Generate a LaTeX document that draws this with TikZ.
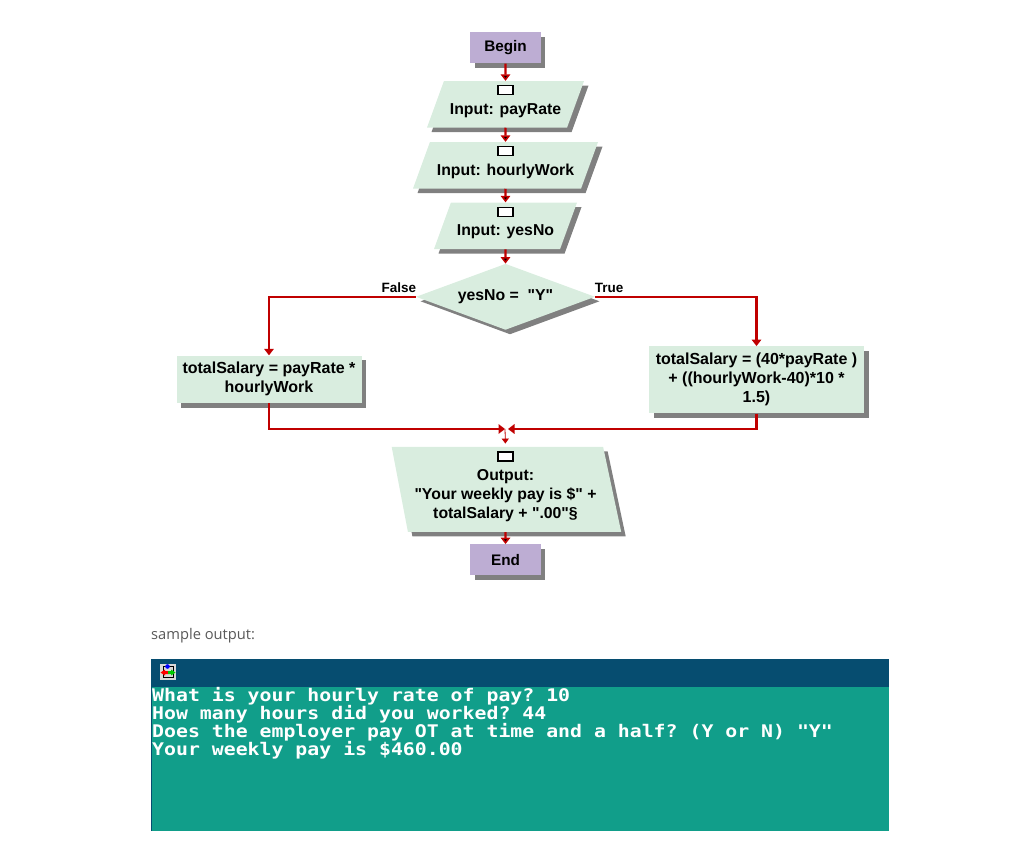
\documentclass[tikz,border=0pt]{standalone}
\usepackage{fontspec}
\newfontfamily\flowfont{Liberation Sans}
\newfontfamily\termfont[FakeStretch=1.14]{DejaVu Sans Mono}
\newfontfamily\notefont{Open Sans}
\usepackage{xcolor}
\usetikzlibrary{arrows.meta,positioning,shadows,shapes.geometric}
\definecolor{flowred}{HTML}{C00000}
\definecolor{flowgreen}{HTML}{D9EDDF}
\definecolor{flowpurple}{HTML}{BDADD3}
\definecolor{flowshadow}{HTML}{808080}
\definecolor{termblue}{HTML}{064D70}
\definecolor{termgreen}{HTML}{119E8A}
\tikzset{
  boxed/.style={fill=#1,inner sep=0pt,font=\flowfont\fontsize{15.8}{19}\selectfont\bfseries,
    drop shadow={shadow xshift=4.5pt,shadow yshift=-4.5pt,fill=flowshadow,opacity=1}},
  terminalbox/.style={boxed=flowpurple,minimum width=70.5pt,minimum height=31pt,
    font=\flowfont\fontsize{15.3}{19}\selectfont\bfseries},
  assignbox/.style={boxed=flowgreen,align=center,font=\flowfont\fontsize{16}{19}\selectfont\bfseries},
  inputbox/.style={boxed=flowgreen,trapezium,trapezium left angle=70,trapezium right angle=110,
    trapezium stretches body,text height=33pt,text depth=13.5pt},
  slotbox/.style={draw=black,fill=white,line width=1.4pt,inner sep=0pt,minimum width=15pt,minimum height=9pt},
  flow/.style={->,draw=flowred,line width=2.2pt},
  flowlabel/.style={font=\flowfont\fontsize{13.5}{15}\selectfont\bfseries,inner sep=0pt,yshift=3pt}
}
\begin{document}
\begin{tikzpicture}[x=1pt,y=1pt,on grid,>={Triangle[width=9.5pt,length=6.5pt]}]
   \useasboundingbox (0,0) rectangle (1024,-866);
   % flowchart
   \node[terminalbox] (begin) at (505.5,-48) {Begin};
   \node[inputbox,minimum width=157pt] (payrate) [below=56.3pt of begin] {Input: payRate};
   \node[inputbox,minimum width=185pt] (hourly) [below=61pt of payrate] {Input: hourlyWork};
   \node[inputbox,minimum width=143pt] (yesno) [below=60.5pt of hourly] {Input: yesNo};
   \node[boxed=flowgreen,diamond,shape aspect=2.7,minimum width=179pt,minimum height=66pt] (decide) [below=71pt of yesno] {yesNo =\ \ "Y"};
   \node[assignbox,minimum width=185pt,minimum height=47.5pt] (leftbox) [below left=82.5pt and 236.5pt of decide]
      {totalSalary = payRate *\\hourlyWork};
   \node[assignbox,minimum width=215pt,minimum height=67pt] (rightbox) [below right=83pt and 251pt of decide]
      {totalSalary = (40*payRate )\\+ ((hourlyWork-40)*10 *\\1.5)};
   \node[boxed=flowgreen,trapezium,trapezium left angle=100.8,trapezium right angle=78,trapezium stretches body,
      minimum width=229.5pt,align=center] (output) [below=192.5pt of decide]
      {\rule{0pt}{34pt}Output:\\"Your weekly pay is \$" +\\totalSalary + ".00"§\rule[-13pt]{0pt}{13pt}};
   \node[terminalbox] (finish) [below=70.5pt of output] {End};
   \node[slotbox] (slotA) [above=14pt of payrate] {};
   \node[slotbox] (slotB) [above=14pt of hourly] {};
   \node[slotbox] (slotC) [above=14pt of yesno] {};
   \node[slotbox] (slotD) [above=33pt of output] {};
   \coordinate (merge) at (506.5,-429);
   \path[flow]
    (begin) edge (payrate)
    (payrate) edge (hourly)
    (hourly) edge (yesno)
    (yesno) edge (decide)
    (output) edge (finish);
   \draw[flow] (decide.west) -| node[flowlabel,pos=0,anchor=south east,xshift=1.5pt] {False} (leftbox);
   \draw[flow] (decide.east) -| node[flowlabel,pos=0,anchor=south west,xshift=-1.5pt] {True} (rightbox);
   \draw[flow] (leftbox) |- ([xshift=-1.5pt]merge);
   \draw[flow] (rightbox) |- ([xshift=1.5pt]merge);
   \draw[flow,line width=.8pt,shorten >=3pt,>={Triangle[width=7pt,length=5pt]}] ([xshift=-1.5pt]merge) -- (output.north -| payrate);
   % sample output
   \node[font=\notefont\fontsize{14.7}{16}\selectfont,text=black!65,inner sep=0pt,anchor=base west] (note) at (151,-639) {sample output:};
   \node[fill=termgreen,inner sep=0pt,minimum width=738pt,minimum height=144pt,anchor=north west] (termbody) at (151,-687) {};
   \node[fill=termblue,inner sep=0pt,minimum width=738pt,minimum height=28.5pt,anchor=south west] (titlebar) at ([yshift=-.5pt]termbody.north west) {};
   \draw[termblue] (termbody.north west) -- (termbody.south west);
   \node[fill=black!15,inner sep=0pt,minimum size=16pt] (winicon) at (168,-671.5) {};
   \draw[black,line width=.7pt] ([shift={(-5,5.5)}]winicon.center) rectangle ([shift={(5,-5.5)}]winicon.center);
   \fill[blue] ([shift={(-.5,5)}]winicon.center) circle (2.3);
   \fill[red] ([shift={(-7.5,-1)}]winicon.center) -- ([shift={(-3,2)}]winicon.center) -- ([shift={(-3,.5)}]winicon.center) -- ([shift={(0,.5)}]winicon.center) -- ([shift={(0,-2.5)}]winicon.center) -- ([shift={(-3,-2.5)}]winicon.center) -- ([shift={(-3,-4)}]winicon.center) -- cycle;
   \fill[green!80!black] ([shift={(7.5,-1)}]winicon.center) -- ([shift={(3,2)}]winicon.center) -- ([shift={(3,.5)}]winicon.center) -- ([shift={(0,.5)}]winicon.center) -- ([shift={(0,-2.5)}]winicon.center) -- ([shift={(3,-2.5)}]winicon.center) -- ([shift={(3,-4)}]winicon.center) -- cycle;
   \node[font=\termfont\bfseries\frenchspacing\fontsize{17.4}{18}\selectfont,text=white,align=left,inner sep=0pt,anchor=north west] (termtext) at ([shift={(1,0)}]termbody.north west)
      {What is your hourly rate of pay? 10\\How many hours did you worked? 44\\Does the employer pay OT at time and a half? (Y or N) "Y"\\Your weekly pay is \$460.00};
\end{tikzpicture}
\end{document}
